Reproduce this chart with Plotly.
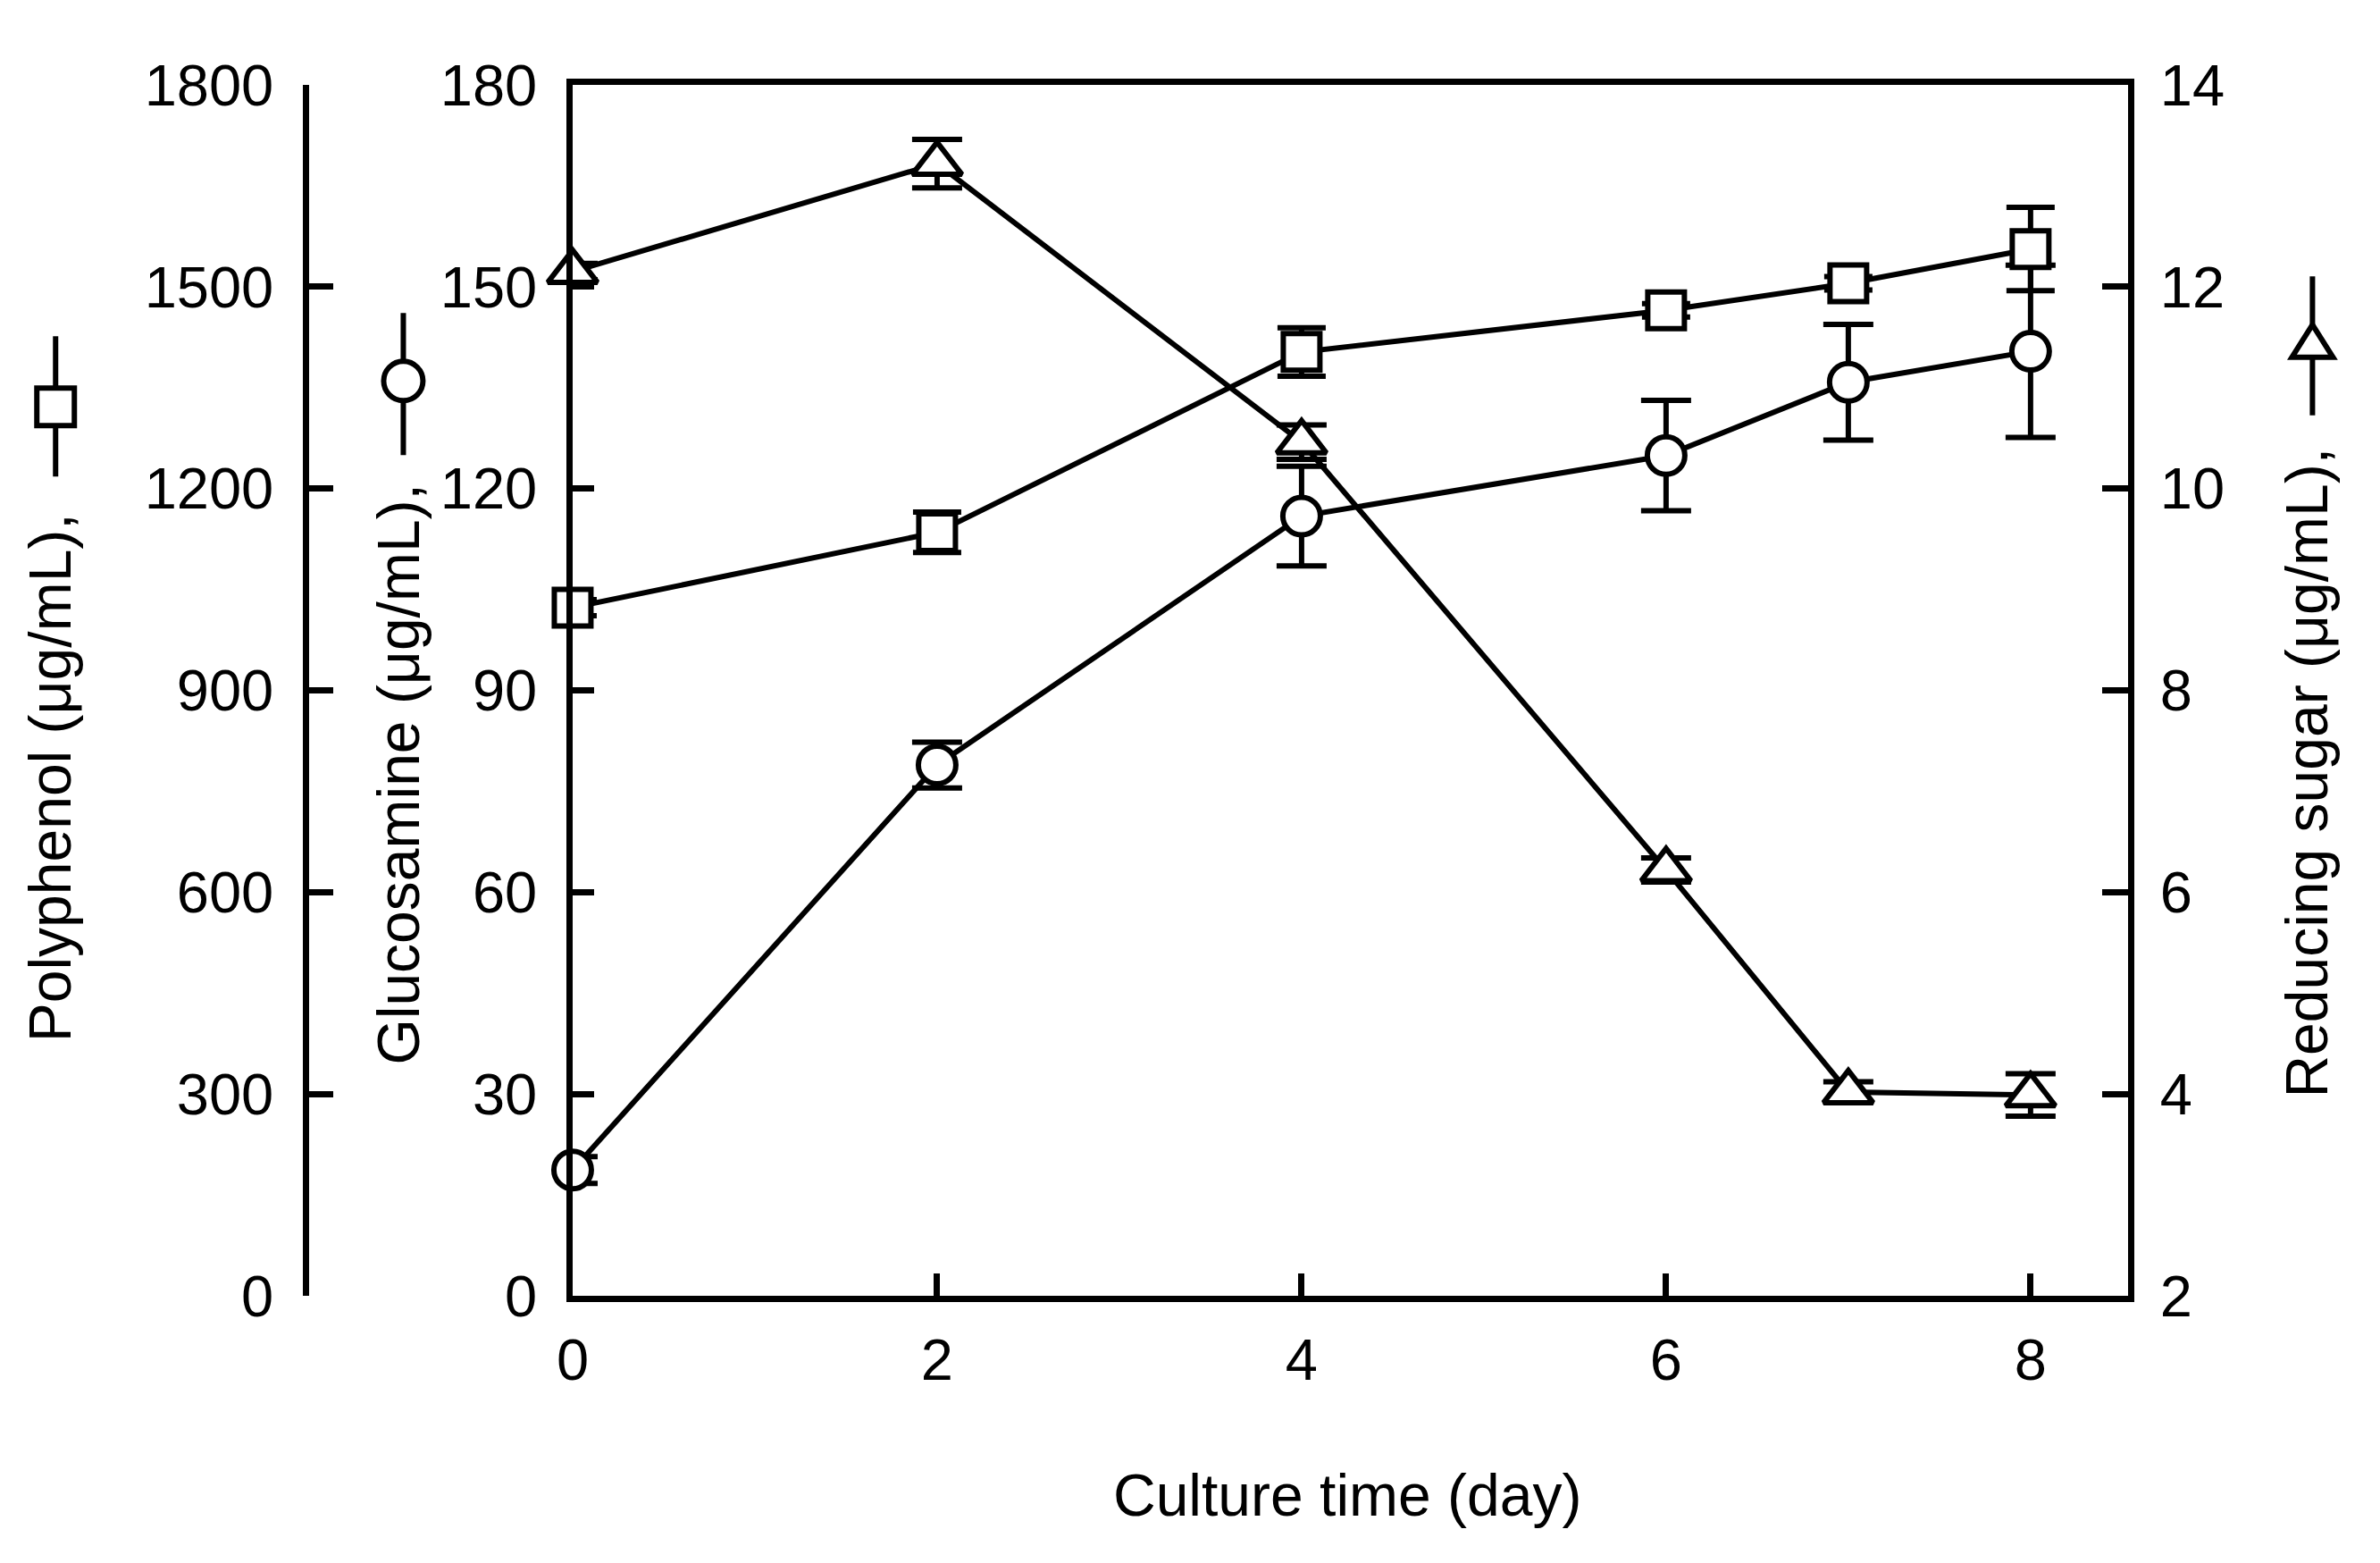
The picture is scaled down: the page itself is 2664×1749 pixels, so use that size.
import plotly.graph_objects as go

# ---------------- data ----------------
days = [0, 2, 4, 6, 7, 8]
polyphenol = [1023, 1135, 1403, 1465, 1505, 1556]
polyphenol_err = [12, 30, 36, 10, 10, 62]
glucosamine = [18.7, 78.9, 115.9, 124.9, 135.8, 140.4]
glucosamine_err = [2.0, 3.4, 7.4, 8.2, 8.6, 12.8]
reducing_sugar = [12.15, 13.22, 10.46, 6.22, 4.02, 3.99]
reducing_sugar_err = [0.08, 0.24, 0.17, 0.12, 0.1, 0.21]

x_ticks = [0, 2, 4, 6, 8]
poly_ticks = [0, 300, 600, 900, 1200, 1500, 1800]
gluc_ticks = [0, 30, 60, 90, 120, 150, 180]
rs_ticks = [2, 4, 6, 8, 10, 12, 14]

x_title = "Culture time (day)"
poly_title = "Polyphenol (μg/mL),"
gluc_title = "Glucosamine (μg/mL),"
rs_title = "Reducing sugar (μg/mL),"

# ---------------- layout geometry (figure pixels; page body adds 8px) ----------------
FIG_W, FIG_H = 2648, 1733
POLY_AXIS_X = 333.5
GLUC_AXIS_X = 632.6
PLOT_R = 2374.5
T, PLOT_B = 86.6, 1442.0
L = POLY_AXIS_X
W, H = PLOT_R - L, PLOT_B - T

FONT = "Liberation Sans, Arial, sans-serif"
TICK_SIZE = 65
TITLE_SIZE = 66
LW = 6.5


def px_x(px):
    return (px - L) / W


def px_y(py):
    return (PLOT_B - py) / H


fig = go.Figure()

common_marker = dict(color="white", line=dict(color="black", width=6))

fig.add_trace(go.Scatter(
    x=days, y=polyphenol, yaxis="y2", mode="lines+markers", cliponaxis=False,
    line=dict(color="black", width=6),
    marker=dict(symbol="square", size=41, **common_marker),
    error_y=dict(type="data", array=polyphenol_err, color="black", thickness=6, width=27),
    name="Polyphenol",
))
fig.add_trace(go.Scatter(
    x=days, y=glucosamine, yaxis="y", mode="lines+markers", cliponaxis=False,
    line=dict(color="black", width=6),
    marker=dict(symbol="circle", size=42, **common_marker),
    error_y=dict(type="data", array=glucosamine_err, color="black", thickness=6, width=28),
    name="Glucosamine",
))
fig.add_trace(go.Scatter(
    x=days, y=reducing_sugar, yaxis="y3", mode="lines+markers", cliponaxis=False,
    line=dict(color="black", width=6),
    marker=dict(symbol="triangle-up", size=48, **common_marker),
    error_y=dict(type="data", array=reducing_sugar_err, color="black", thickness=6, width=28),
    name="Reducing sugar",
))

tickfont = dict(family=FONT, size=TICK_SIZE, color="black")
axis_common = dict(showgrid=False, zeroline=False, tickfont=tickfont,
                   ticks="inside", tickwidth=LW, tickcolor="black",
                   showline=True, linewidth=LW, linecolor="black")

fig.update_layout(
    width=FIG_W, height=FIG_H,
    margin=dict(l=L, r=FIG_W - PLOT_R, t=T, b=FIG_H - PLOT_B, pad=0),
    paper_bgcolor="white", plot_bgcolor="white",
    showlegend=False,
    xaxis=dict(
        domain=[px_x(GLUC_AXIS_X), 1], range=[0, 8.535],
        tickvals=x_ticks, ticktext=[str(v) for v in x_ticks],
        ticklen=25, mirror=True, ticklabelstandoff=9, **axis_common,
    ),
    yaxis=dict(
        range=[0, 180], tickvals=gluc_ticks, ticktext=[str(v) for v in gluc_ticks],
        ticklen=24, ticklabelstandoff=20, **axis_common,
    ),
    yaxis2=dict(
        range=[0, 1800], tickvals=poly_ticks, ticktext=[str(v) for v in poly_ticks],
        overlaying="y", anchor="free", position=0, side="left",
        ticklen=27, ticklabelstandoff=20, **axis_common,
    ),
    yaxis3=dict(
        range=[2, 14], tickvals=rs_ticks, ticktext=[str(v) for v in rs_ticks],
        overlaying="y", anchor="x", side="right",
        ticklen=29, ticklabelstandoff=16, **axis_common,
    ),
)

titlefont = dict(family=FONT, size=TITLE_SIZE, color="black")
annos = [
    dict(text=x_title, x=px_x(1500.5), y=px_y(1665), textangle=0),
    dict(text=poly_title, x=px_x(47.5), y=px_y(862), textangle=-90),
    dict(text=gluc_title, x=px_x(438), y=px_y(858), textangle=-90),
    dict(text=rs_title, x=px_x(2575), y=px_y(856), textangle=-90),
]
for a in annos:
    fig.add_annotation(xref="paper", yref="paper", showarrow=False,
                       xanchor="center", yanchor="middle", font=titlefont, **a)

# ---- key symbols drawn next to the axis titles (line + open marker) ----
KEY_LINE = dict(color="black", width=6)


def key_line(xc, y_top, y_bot):
    fig.add_shape(type="line", xref="paper", yref="paper",
                  x0=px_x(xc), x1=px_x(xc), y0=px_y(y_top), y1=px_y(y_bot),
                  line=KEY_LINE, layer="above")


# polyphenol: square
key_line(53.6, 368, 525)
fig.add_shape(type="rect", xref="paper", yref="paper",
              x0=px_x(53.6 - 21), x1=px_x(53.6 + 21), y0=px_y(447 - 21), y1=px_y(447 + 21),
              line=KEY_LINE, fillcolor="white", layer="above")
# glucosamine: circle
key_line(443, 342, 501)
fig.add_shape(type="circle", xref="paper", yref="paper",
              x0=px_x(443 - 22), x1=px_x(443 + 22), y0=px_y(418 - 22), y1=px_y(418 + 22),
              line=KEY_LINE, fillcolor="white", layer="above")
# reducing sugar: triangle
key_line(2581, 301, 456.5)
tri = "M {ax},{ay} L {bx1},{by} L {bx2},{by} Z".format(
    ax=px_x(2581), ay=px_y(355), bx1=px_x(2581 - 23), bx2=px_x(2581 + 23), by=px_y(391.5))
fig.add_shape(type="path", xref="paper", yref="paper", path=tri,
              line=dict(color="black", width=6), fillcolor="white", layer="above")

fig.write_html("out.html")
